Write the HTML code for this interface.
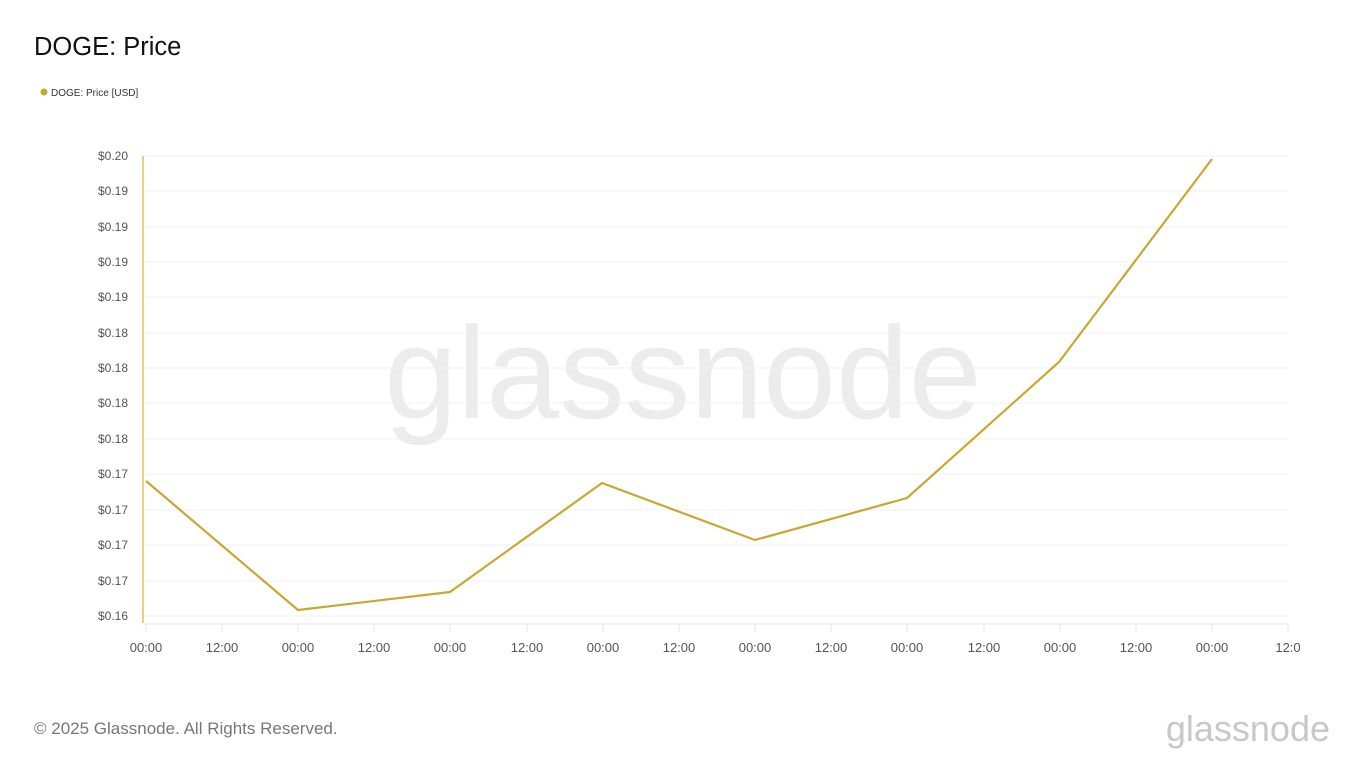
<!DOCTYPE html>
<html><head><meta charset="utf-8"><style>
body{margin:0;width:1366px;height:768px;background:#fff;font-family:"Liberation Sans",sans-serif;overflow:hidden}
</style></head><body>
<svg width="1366" height="768" xmlns="http://www.w3.org/2000/svg" font-family="Liberation Sans, sans-serif">
<text x="34" y="55" font-size="25.5" fill="#111">DOGE: Price</text>
<circle cx="44" cy="92" r="3.5" fill="#c9a731"/>
<text x="51" y="96" font-size="10" fill="#333">DOGE: Price [USD]</text>
<text x="683" y="418" font-size="131" fill="#ececec" text-anchor="middle" font-weight="400">glassnode</text>
<g stroke="#f0f0f0" stroke-width="1">
<line x1="143" x2="1288" y1="156" y2="156"/><line x1="143" x2="1288" y1="191" y2="191"/><line x1="143" x2="1288" y1="227" y2="227"/><line x1="143" x2="1288" y1="262" y2="262"/><line x1="143" x2="1288" y1="297" y2="297"/><line x1="143" x2="1288" y1="333" y2="333"/><line x1="143" x2="1288" y1="368" y2="368"/><line x1="143" x2="1288" y1="403" y2="403"/><line x1="143" x2="1288" y1="439" y2="439"/><line x1="143" x2="1288" y1="474" y2="474"/><line x1="143" x2="1288" y1="510" y2="510"/><line x1="143" x2="1288" y1="545" y2="545"/><line x1="143" x2="1288" y1="581" y2="581"/><line x1="143" x2="1288" y1="616" y2="616"/>
<line x1="143" x2="1288" y1="624" y2="624" stroke="#e6e6e6"/>
</g>
<g stroke="#e6e6e6"><line x1="146" x2="146" y1="624" y2="632"/><line x1="222" x2="222" y1="624" y2="632"/><line x1="298" x2="298" y1="624" y2="632"/><line x1="374" x2="374" y1="624" y2="632"/><line x1="450" x2="450" y1="624" y2="632"/><line x1="527" x2="527" y1="624" y2="632"/><line x1="603" x2="603" y1="624" y2="632"/><line x1="679" x2="679" y1="624" y2="632"/><line x1="755" x2="755" y1="624" y2="632"/><line x1="831" x2="831" y1="624" y2="632"/><line x1="907" x2="907" y1="624" y2="632"/><line x1="984" x2="984" y1="624" y2="632"/><line x1="1060" x2="1060" y1="624" y2="632"/><line x1="1136" x2="1136" y1="624" y2="632"/><line x1="1212" x2="1212" y1="624" y2="632"/><line x1="1288" x2="1288" y1="624" y2="632"/></g>
<line x1="143" x2="143" y1="156" y2="623" stroke="#e0c060" stroke-width="1.5"/>
<g font-size="12" fill="#555" text-anchor="end">
<text x="128" y="160">$0.20</text><text x="128" y="195">$0.19</text><text x="128" y="231">$0.19</text><text x="128" y="266">$0.19</text><text x="128" y="301">$0.19</text><text x="128" y="337">$0.18</text><text x="128" y="372">$0.18</text><text x="128" y="407">$0.18</text><text x="128" y="443">$0.18</text><text x="128" y="478">$0.17</text><text x="128" y="514">$0.17</text><text x="128" y="549">$0.17</text><text x="128" y="585">$0.17</text><text x="128" y="620">$0.16</text>
</g>
<g font-size="13" fill="#555" text-anchor="middle">
<text x="146" y="652">00:00</text><text x="222" y="652">12:00</text><text x="298" y="652">00:00</text><text x="374" y="652">12:00</text><text x="450" y="652">00:00</text><text x="527" y="652">12:00</text><text x="603" y="652">00:00</text><text x="679" y="652">12:00</text><text x="755" y="652">00:00</text><text x="831" y="652">12:00</text><text x="907" y="652">00:00</text><text x="984" y="652">12:00</text><text x="1060" y="652">00:00</text><text x="1136" y="652">12:00</text><text x="1212" y="652">00:00</text><text x="1288" y="652">12:0</text>
</g>
<polyline fill="none" stroke="#c9a731" stroke-width="2.2" stroke-linejoin="round" points="146,481 298,610 450,592 602,483 755,540 907,498 1059,362 1212,159"/>
<text x="34" y="734" font-size="17" fill="#777">© 2025 Glassnode. All Rights Reserved.</text>
<text x="1330" y="741" font-size="36" fill="#c8c8c8" text-anchor="end">glassnode</text>
</svg>
</body></html>
